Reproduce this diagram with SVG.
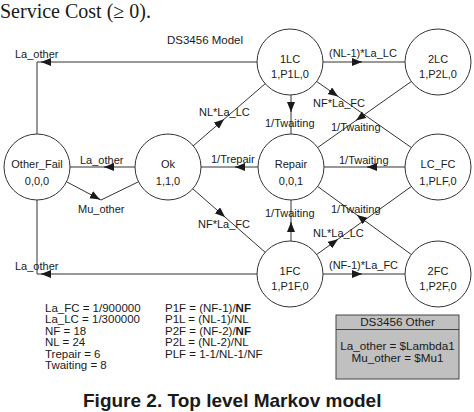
<svg xmlns="http://www.w3.org/2000/svg" width="474" height="412" viewBox="0 0 474 412">
<style>
.n circle{fill:#fff;stroke:#333;stroke-width:1}
.t{font-family:"Liberation Sans",Arial,sans-serif;font-size:11px;fill:#1a1a1a}
.m{text-anchor:middle}
.c path{fill:none;stroke:#333;stroke-width:1}
.c path.a{marker-end:url(#ah)}
</style>
<defs>
<marker id="ah" markerUnits="userSpaceOnUse" markerWidth="11" markerHeight="9" refX="10" refY="4" orient="auto"><path d="M0,0 L10,4 L0,8 z" fill="#1a1a1a"/></marker>
</defs>
<rect width="474" height="412" fill="#fff"/>
<text x="0" y="18" style="font-family:'Liberation Serif','Times New Roman',serif;font-size:20px;fill:#1a1a1a">Service Cost (≥ 0).</text>
<text class="t" x="167" y="44" style="font-size:11.5px">DS3456 Model</text>

<g id="connectors" class="c">
<path d="M257,62 H37 V134"/>
<path d="M257,274 H37 V200"/>
<path d="M135,167 H70"/>
<path d="M67,182 L101,200 L138,182"/>
<path d="M193,146 L266,83"/>
<path d="M291,95 V134"/>
<path d="M316,81 L412,148"/>
<path d="M412,81 L317,148"/>
<path d="M258,167 H201"/>
<path d="M405,167 H324"/>
<path d="M193,189 L266,253"/>
<path d="M291,241 V200"/>
<path d="M316,255 L412,186"/>
<path d="M412,255 L317,186"/>
<path d="M323,62 H405"/>
<path d="M323,274 H405"/>
<path class="a" d="M51,62 L41,62"/>
<path class="a" d="M51,274 L41,274"/>
<path class="a" d="M114,167 L104,167"/>
<path class="a" d="M91.2,194.8 L100,199.5"/>
<path class="a" d="M216.4,125.7 L224,119.2"/>
<path class="a" d="M291,102 L291,112"/>
<path class="a" d="M329.8,90.7 L338,96.4"/>
<path class="a" d="M364.2,114.7 L356,120.5"/>
<path class="a" d="M245,167 L235,167"/>
<path class="a" d="M377,167 L367,167"/>
<path class="a" d="M217.5,210.4 L225,217"/>
<path class="a" d="M291,232 L291,222"/>
<path class="a" d="M329.9,245 L338,239.2"/>
<path class="a" d="M365.1,221 L357,215.1"/>
<path class="a" d="M352,62 L362,62"/>
<path class="a" d="M352,274 L362,274"/>
<text class="t" x="15" y="58">La_other</text>
<text class="t" x="15" y="270">La_other</text>
<text class="t" x="80" y="164">La_other</text>
<text class="t" x="78" y="213">Mu_other</text>
<text class="t" x="199" y="116">NL*La_LC</text>
<text class="t" x="265" y="127">1/Twaiting</text>
<text class="t" x="313" y="107">NF*La_FC</text>
<text class="t" x="331" y="131">1/Twaiting</text>
<text class="t" x="329" y="57">(NL-1)*La_LC</text>
<text class="t" x="211" y="163">1/Trepair</text>
<text class="t" x="339" y="164">1/Twaiting</text>
<text class="t" x="198" y="228">NF*La_FC</text>
<text class="t" x="265" y="217">1/Twaiting</text>
<text class="t" x="313" y="237">NL*La_LC</text>
<text class="t" x="331" y="213">1/Twaiting</text>
<text class="t" x="329" y="269">(NF-1)*La_FC</text>
</g>

<g id="node-1LC" class="n"><circle cx="290" cy="62" r="33"/><text class="t m" x="290" y="63">1LC</text><text class="t m" x="290" y="78">1,P1L,0</text></g>
<g id="node-2LC" class="n"><circle cx="438" cy="62" r="33"/><text class="t m" x="438" y="63">2LC</text><text class="t m" x="438" y="78">1,P2L,0</text></g>
<g id="node-Other_Fail" class="n"><circle cx="37" cy="167" r="33"/><text class="t m" x="37" y="168">Other_Fail</text><text class="t m" x="37" y="185">0,0,0</text></g>
<g id="node-Ok" class="n"><circle cx="168" cy="167" r="33"/><text class="t m" x="168" y="168">Ok</text><text class="t m" x="168" y="185">1,1,0</text></g>
<g id="node-Repair" class="n"><circle cx="291" cy="167" r="33"/><text class="t m" x="291" y="168">Repair</text><text class="t m" x="291" y="185">0,0,1</text></g>
<g id="node-LC_FC" class="n"><circle cx="438" cy="167" r="33"/><text class="t m" x="438" y="168">LC_FC</text><text class="t m" x="438" y="185">1,PLF,0</text></g>
<g id="node-1FC" class="n"><circle cx="290" cy="274" r="33"/><text class="t m" x="290" y="275">1FC</text><text class="t m" x="290" y="290">1,P1F,0</text></g>
<g id="node-2FC" class="n"><circle cx="438" cy="274" r="33"/><text class="t m" x="438" y="275">2FC</text><text class="t m" x="438" y="290">1,P2F,0</text></g>

<g id="params" class="t" style="font-size:11.5px">
<text x="45" y="312">La_FC = 1/900000</text>
<text x="45" y="323.4">La_LC = 1/300000</text>
<text x="45" y="334.8">NF = 18</text>
<text x="45" y="346.2">NL = 24</text>
<text x="45" y="357.6">Trepair = 6</text>
<text x="45" y="369">Twaiting = 8</text>
<text x="165" y="312">P1F = (NF-1)/<tspan font-weight="bold">NF</tspan></text>
<text x="165" y="323.4">P1L = (NL-1)/NL</text>
<text x="165" y="334.8">P2F = (NF-2)/<tspan font-weight="bold">NF</tspan></text>
<text x="165" y="346.2">P2L = (NL-2)/NL</text>
<text x="165" y="357.6">PLF = 1-1/NL-1/NF</text>
</g>

<g id="node-DS3456_Other">
<rect x="336" y="315" width="123" height="64" fill="#c0c0c0" stroke="#444"/>
<line x1="336" y1="329.5" x2="459" y2="329.5" stroke="#444"/>
<text class="t m" x="397.5" y="326" style="font-size:11.7px">DS3456 Other</text>
<text class="t m" x="397.5" y="350" style="font-size:11.7px">La_other = $Lambda1</text>
<text class="t m" x="397.5" y="361.5" style="font-size:11.7px">Mu_other = $Mu1</text>
</g>

<text x="83" y="407" style="font-family:'Liberation Sans',Arial,sans-serif;font-size:19px;font-weight:bold;fill:#1a1a1a">Figure 2. Top level Markov model</text>
</svg>
